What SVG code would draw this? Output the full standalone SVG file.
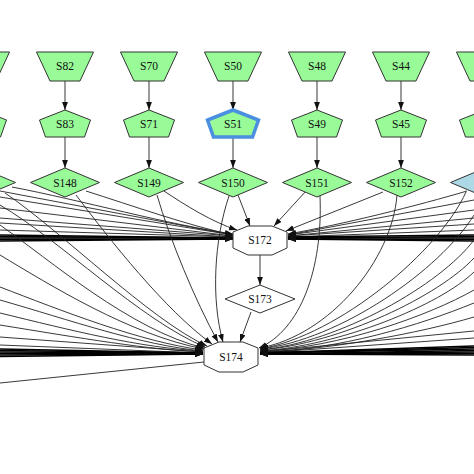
<svg xmlns="http://www.w3.org/2000/svg" width="474" height="474" viewBox="0 0 474 474">
<style>
.g{fill:#98fb98;stroke:#333;stroke-width:1}
.b{fill:#add8e6;stroke:#333;stroke-width:1}
.w{fill:#fff;stroke:#333;stroke-width:1}
.t{font-family:"Liberation Serif","Times New Roman",serif;font-size:11.5px;fill:#111;text-anchor:middle}
.e path{fill:none;stroke:#222;stroke-width:0.9}
.e path.k{stroke:#000;stroke-width:1.3}
.e .m{marker-end:url(#a)}
</style>
<defs>
<marker id="a" markerWidth="8" markerHeight="6" refX="8" refY="2.9" orient="auto" markerUnits="userSpaceOnUse"><path d="M0,0 L8,2.9 L0,5.8 z" fill="#111"/></marker>
</defs>
<rect width="474" height="474" fill="#fff"/>
<g class="e">
<path class="m" d="M65,81 L65,110"/><path class="m" d="M65,137 L65,168"/>
<path class="m" d="M149,81 L149,110"/><path class="m" d="M149,137 L149,168"/>
<path class="m" d="M233,81 L233,110"/><path class="m" d="M233,137 L233,168"/>
<path class="m" d="M317,81 L317,110"/><path class="m" d="M317,137 L317,168"/>
<path class="m" d="M401,81 L401,110"/><path class="m" d="M401,137 L401,168"/>
<path class="m" d="M260,255 L260,285"/>
<path class="m" d="M251,312 L240,342"/>
<path d="M204,362 L0,383"/>
<path class="m" d="M86,191 C130,205 190,226 233,235"/>
<path class="m" d="M164,191 C185,205 212,222 237,230"/>
<path class="m" d="M238,195 L250,226"/>
<path class="m" d="M306,191 L274,226"/>
<path class="m" d="M383,192 L286,231"/>
<path class="m" d="M467,191 C420,205 340,225 288,234"/>
<path class="m" d="M12,187 C80,200 170,225 233,234"/>
<path class="m" d="M0,191 L233,235"/>
<path class="m" d="M0,197 L233,235"/>
<path class="m" d="M0,208 L233,236"/>
<path class="m" d="M0,218 L233,236"/>
<path class="m" d="M0,223 L233,237"/>
<path class="m" d="M0,230 L233,237"/>
<path class="m k" d="M0,235 L233,238"/>
<path class="m k" d="M0,236.5 L233,238"/>
<path class="m k" d="M0,238 L233,238"/>
<path class="m k" d="M0,239.5 L233,239"/>
<path class="m k" d="M0,241 L233,239"/>
<path class="m" d="M474,200 L288,235"/>
<path class="m" d="M474,210 L288,235"/>
<path class="m" d="M474,218 L288,236"/>
<path class="m" d="M474,224 L288,236"/>
<path class="m" d="M474,230 L288,237"/>
<path class="m k" d="M474,235 L288,237"/>
<path class="m k" d="M474,236.5 L288,238"/>
<path class="m k" d="M474,238 L288,238"/>
<path class="m k" d="M474,239.5 L288,239"/>
<path class="m k" d="M474,241 L288,239"/>
<path class="m" d="M76,195 C110,240 165,310 212,344"/>
<path class="m" d="M157,195 C170,240 195,300 218,342"/>
<path class="m" d="M229,196 C214,240 211,300 223,342"/>
<path class="m" d="M5,193 C60,230 150,320 207,346"/>
<path class="m" d="M0,205 C60,240 140,320 205,347"/>
<path class="m" d="M0,225 C50,260 130,330 204,348"/>
<path class="m" d="M0,255 C50,285 130,335 204,349"/>
<path class="m" d="M0,287 C60,310 140,342 203,350"/>
<path class="m" d="M0,300 C70,320 140,345 203,351"/>
<path class="m" d="M0,313 C70,330 140,348 203,351"/>
<path class="m" d="M0,325 C80,338 150,350 203,352"/>
<path class="m" d="M0,337 L203,352"/>
<path class="m" d="M0,345 L203,353"/>
<path class="m k" d="M0,349 L203,353"/>
<path class="m k" d="M0,350.5 L203,353"/>
<path class="m k" d="M0,352 L203,353"/>
<path class="m k" d="M0,353.5 L203,354"/>
<path class="m k" d="M0,355 L203,354"/>
<path class="m k" d="M0,356.5 L203,354"/>
<path class="m" d="M320,196 C323,270 300,330 259,348"/>
<path class="m" d="M397,195 C392,260 330,335 260,348"/>
<path class="m" d="M466,192 C440,250 340,335 260,349"/>
<path class="m" d="M474,215 C440,270 340,340 260,349"/>
<path class="m" d="M474,240 C440,285 340,342 260,350"/>
<path class="m" d="M474,258 C440,295 340,344 260,350"/>
<path class="m" d="M474,272 C440,305 340,346 260,351"/>
<path class="m" d="M474,290 C430,315 340,348 260,351"/>
<path class="m" d="M474,303 C420,325 340,350 260,352"/>
<path class="m" d="M474,317 C420,333 330,350 260,352"/>
<path class="m" d="M474,331 L260,352"/>
<path class="m" d="M474,338 L260,353"/>
<path class="m k" d="M474,346 L260,353"/>
<path class="m k" d="M474,347.5 L260,353"/>
<path class="m k" d="M474,349 L260,353"/>
<path class="m k" d="M474,350.5 L260,354"/>
<path class="m k" d="M474,352 L260,354"/>
<path class="m k" d="M474,353.5 L260,354"/>
<path class="m k" d="M474,355 L260,354"/>
</g>
<g id="n_l1"><polygon class="g" points="-47.5,52 9.5,52 -4,81 -34,81"/></g>
<g id="n_l2"><polygon class="g" points="-19,110 6.5,120 0.5,137 -38.5,137 -44.5,120"/></g>
<g id="n_l3"><polygon class="g" points="-19,168 15.5,182.5 -19,197 -53.5,182.5"/></g>
<g id="S82"><polygon class="g" points="36.5,52 93.5,52 80,81 50,81"/><text class="t" x="65" y="70">S82</text></g>
<g id="S70"><polygon class="g" points="120.5,52 177.5,52 164,81 134,81"/><text class="t" x="149" y="70">S70</text></g>
<g id="S50"><polygon class="g" points="204.5,52 261.5,52 248,81 218,81"/><text class="t" x="233" y="70">S50</text></g>
<g id="S48"><polygon class="g" points="288.5,52 345.5,52 332,81 302,81"/><text class="t" x="317" y="70">S48</text></g>
<g id="S44"><polygon class="g" points="372.5,52 429.5,52 416,81 386,81"/><text class="t" x="401" y="70">S44</text></g>
<g id="n_r1"><polygon class="g" points="456.5,52 513.5,52 500,81 470,81"/></g>
<g id="S83"><polygon class="g" points="65,110 90.5,120 84.5,137 45.5,137 39.5,120"/><text class="t" x="65" y="127.5">S83</text></g>
<g id="S71"><polygon class="g" points="149,110 174.5,120 168.5,137 129.5,137 123.5,120"/><text class="t" x="149" y="127.5">S71</text></g>
<g id="S51"><polygon class="g" points="233,110 258.5,120 252.5,137 213.5,137 207.5,120" style="stroke:#4a8fe0;stroke-width:3.5"/><text class="t" x="233" y="127.5">S51</text></g>
<g id="S49"><polygon class="g" points="317,110 342.5,120 336.5,137 297.5,137 291.5,120"/><text class="t" x="317" y="127.5">S49</text></g>
<g id="S45"><polygon class="g" points="401,110 426.5,120 420.5,137 381.5,137 375.5,120"/><text class="t" x="401" y="127.5">S45</text></g>
<g id="n_r2"><polygon class="g" points="485,110 510.5,120 504.5,137 465.5,137 459.5,120"/></g>
<g id="S148"><polygon class="g" points="65,168 99.5,182.5 65,197 30.5,182.5"/><text class="t" x="65" y="186.5">S148</text></g>
<g id="S149"><polygon class="g" points="149,168 183.5,182.5 149,197 114.5,182.5"/><text class="t" x="149" y="186.5">S149</text></g>
<g id="S150"><polygon class="g" points="233,168 267.5,182.5 233,197 198.5,182.5"/><text class="t" x="233" y="186.5">S150</text></g>
<g id="S151"><polygon class="g" points="317,168 351.5,182.5 317,197 282.5,182.5"/><text class="t" x="317" y="186.5">S151</text></g>
<g id="S152"><polygon class="g" points="401,168 435.5,182.5 401,197 366.5,182.5"/><text class="t" x="401" y="186.5">S152</text></g>
<g id="n_r3"><polygon class="b" points="485,168 519.5,182.5 485,197 450.5,182.5"/></g>
<g id="S172"><polygon class="w" points="248,226 272,226 287,232 287,248 272,255 248,255 233,248 233,232"/><text class="t" x="260" y="244">S172</text></g>
<g id="S173"><polygon class="w" points="260,285 295,299 260,313 225,299"/><text class="t" x="260" y="303">S173</text></g>
<g id="S174"><polygon class="w" points="219,342 243,342 258,348 258,365 243,372 219,372 204,365 204,348"/><text class="t" x="231" y="361">S174</text></g>
</svg>
